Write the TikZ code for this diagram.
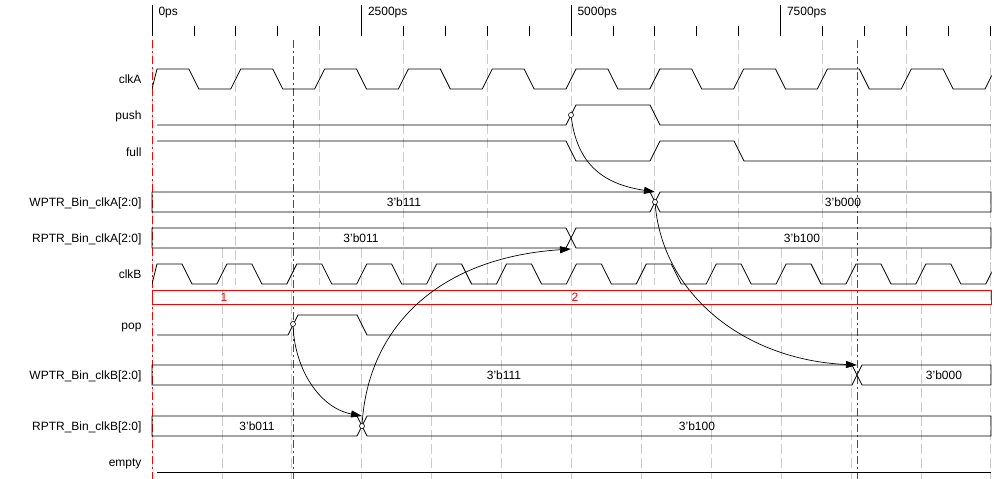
\documentclass[tikz,border=0pt]{standalone}
\usepackage{fontspec}
\setmainfont{Liberation Sans}
\usetikzlibrary{arrows.meta}

\begin{document}
\begin{tikzpicture}[x=1pt,y=-1pt,>={Triangle[length=11pt,width=7pt]},
                    wave/.style={line width=0.8pt},
                    gridln/.style={black!20,line width=0.8pt,dash pattern=on 10pt off 4pt},
                    redmark/.style={draw=red,line width=1pt,dash pattern=on 8pt off 3pt on 2pt off 3pt},
                    sig/.style={anchor=base east,font=\fontsize{12}{14}\selectfont},
                    val/.style={anchor=base,font=\fontsize{12}{14}\selectfont},
                    ev/.style={circle,draw,fill=white,inner sep=0pt,minimum size=5pt,line width=0.6pt},
                    cause/.style={->,line width=0.7pt}]

  \useasboundingbox[fill=white] (0,0) rectangle (994,479);

  % time axis
  \foreach \k in {1,...,20}
    \draw[wave] ({152+41.9*\k},26) -- ++(0,10);
  \foreach \k/\t in {0/0ps,5/2500ps,10/5000ps,15/7500ps} {
    \draw[wave] ({152+41.9*\k},5) -- ++(0,31);
    \node[val,anchor=base west] (t\k) at ({155+41.9*\k},16) {\t};
  }

  % grid: clkA edges above, clkB edges below
  \foreach \k in {0,...,10}
    \draw[gridln] ({152+83.8*\k},40) -- ++(0,245);
  \foreach \k in {0,...,12}
    \draw[gridln] ({152+69.9*\k},248) -- ++(0,231);

  % cursors
  \draw[redmark] (152.5,40) -- ++(0,439) (293.5,40) -- ++(0,439) (857.5,40) -- ++(0,439);

  % signal names
  \node[sig] (nclkA) at (145,83)  {clkA};
  \node[sig] (npush) at (145,119) {push};
  \node[sig] (nfull) at (145,156) {full};
  \node[sig] (nwa)   at (145,206) {WPTR\_Bin\_clkA[2:0]};
  \node[sig] (nra)   at (145,242) {RPTR\_Bin\_clkA[2:0]};
  \node[sig] (nclkB) at (145,278) {clkB};
  \node[sig] (npop)  at (145,329) {pop};
  \node[sig] (nwb)   at (145,379) {WPTR\_Bin\_clkB[2:0]};
  \node[sig] (nrb)   at (145,430) {RPTR\_Bin\_clkB[2:0]};
  \node[sig] (nempty) at (145,466) {empty};

  % clocks
  \begin{scope}
    \clip (152,0) rectangle (991.5,479);
    \draw[wave] (152,89) -- (157,69)
      \foreach \k in {0,...,9} {
        -- ({188.9+83.8*\k},69) -- ({198.9+83.8*\k},89)
        -- ({230.8+83.8*\k},89) -- ({240.8+83.8*\k},69)};
    \draw[wave] (152,284) -- (157,264)
      \foreach \k in {0,...,11} {
        -- ({181.95+69.9*\k},264) -- ({191.95+69.9*\k},284)
        -- ({216.9+69.9*\k},284) -- ({226.9+69.9*\k},264)};
  \end{scope}

  % single bits
  \draw[wave] (157,125) -- (566,125) -- (576,105) -- (650,105) -- (660,125) -- (991,125);
  \draw[wave] (157,141) -- (566,141) -- (576,161) -- (650,161) -- (660,141)
              -- (734,141) -- (744,161) -- (991,161);
  \draw[wave] (157,335) -- (288,335) -- (298,315) -- (357,315) -- (367,335) -- (991,335);
  \draw[wave] (157,472) -- (991,472);

  % buses
  \draw[wave] (650,192) -- (152,192) -- (152,212) -- (650,212) -- (660,192)
              -- (991,192) -- (991,212) -- (660,212) -- cycle;
  \draw[wave] (566,228) -- (152,228) -- (152,248) -- (566,248) -- (576,228)
              -- (991,228) -- (991,248) -- (576,248) -- cycle;
  \draw[wave] (852,365) -- (152,365) -- (152,385) -- (852,385) -- (862,365)
              -- (991,365) -- (991,385) -- (862,385) -- cycle;
  \draw[wave] (357,416) -- (152,416) -- (152,436) -- (357,436) -- (367,416)
              -- (991,416) -- (991,436) -- (367,436) -- cycle;

  \node[val] (wa0) at (404,206) {3'b111};
  \node[val] (wa1) at (843,206) {3'b000};
  \node[val] (ra0) at (361,242) {3'b011};
  \node[val] (ra1) at (802,242) {3'b100};
  \node[val] (wb0) at (504,379) {3'b111};
  \node[val] (wb1) at (944,379) {3'b000};
  \node[val] (rb0) at (257,430) {3'b011};
  \node[val] (rb1) at (697,430) {3'b100};

  % clkB count
  \draw[red,line width=0.8pt] (152,290) rectangle (991,304);
  \node[val,red] (c1) at (224,301) {1};
  \node[val,red] (c2) at (575,301) {2};

  % events
  \node[ev] (pushup) at (571,115) {};
  \node[ev] (wachg)  at (655,202) {};
  \node[ev] (popup)  at (293,324) {};
  \node[ev] (rbchg)  at (362,426) {};
  \coordinate (watop) at (655,192);
  \coordinate (rabot) at (571,249);
  \coordinate (wbtop) at (857,365);
  \coordinate (rbtop) at (362,416);

  \draw[cause] (pushup) .. controls (578,170) and (610,185) .. (watop);
  \draw[cause] (wachg) .. controls (663,295) and (745,360) .. (wbtop);
  \draw[cause] (popup) .. controls (295,370) and (320,408) .. (rbtop);
  \draw[cause] (rbchg) .. controls (368,330) and (435,258) .. (rabot);
\end{tikzpicture}
\end{document}
